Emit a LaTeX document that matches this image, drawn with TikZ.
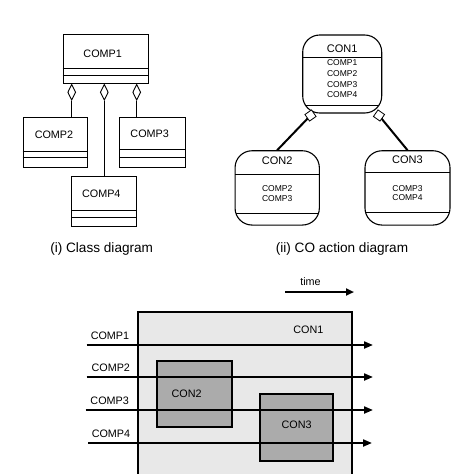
\documentclass[tikz,border=0pt]{standalone}
\usepackage{fontspec}
\setmainfont{Liberation Sans}
\usetikzlibrary{shapes.geometric,arrows.meta,backgrounds}
\tikzset{
  cls/.style={draw, line width=1.1pt, inner sep=0, fill=white, anchor=north west},
  cmp/.style={line width=0.9pt},
  clstxt/.style={font=\fontsize{10.8}{12}\selectfont, inner sep=0},
  agg/.style={diamond, draw, line width=0.9pt, fill=white, inner sep=0, minimum width=8, minimum height=16},
  aggline/.style={line width=0.9pt},
  conbox/.style={draw, line width=1.1pt, rounded corners=17, inner sep=0, fill=white},
  contitle/.style={font=\fontsize{11}{12}\selectfont, inner sep=0},
  conlist/.style={font=\fontsize{8.5}{9}\selectfont, inner sep=0},
  link/.style={draw, line width=0.8pt, fill=white, inner sep=0, minimum width=8, minimum height=8},
  linkline/.style={line width=2pt},
  caption/.style={font=\fontsize{13.6}{15}\selectfont, inner sep=0},
  seqtxt/.style={font=\fontsize{10.8}{12}\selectfont, inner sep=0},
  lane/.style={line width=2pt, -{Triangle[length=9pt,width=7pt]}},
}
\begin{document}
\begin{tikzpicture}[x=1pt,y=-1pt]
\useasboundingbox (0,0) rectangle (474,474);

% ---------- (i) Class diagram ----------
\node[cls, minimum width=85, minimum height=49.3] (c1) at (62.7,34) {};
\draw[cmp] (62.7,68.3) -- (147.7,68.3) (62.7,75.7) -- (147.7,75.7);
\node[clstxt] (t1) at (102.7,53.3) {COMP1};

\node[cls, minimum width=64.6, minimum height=50] (c2) at (22.7,116.7) {};
\draw[cmp] (22.7,151.7) -- (87.3,151.7) (22.7,157.3) -- (87.3,157.3);
\node[clstxt] (t2) at (54,135) {COMP2};

\node[cls, minimum width=65.7, minimum height=50] (c3) at (119.3,116.7) {};
\draw[cmp] (119.3,149) -- (185,149) (119.3,157) -- (185,157);
\node[clstxt] (t3) at (149.7,133.3) {COMP3};

\node[cls, minimum width=65, minimum height=50] (c4) at (71,176) {};
\draw[cmp] (71,210) -- (136,210) (71,217.3) -- (136,217.3);
\node[clstxt] (t4) at (101.3,194) {COMP4};

\node[agg, anchor=north] (d2) at (71.7,83.8) {};
\node[agg, anchor=north] (d4) at (104.3,83.8) {};
\node[agg, anchor=north] (d3) at (136.7,83.8) {};
\draw[aggline] (d2.south) -- (d2.south |- c2.north);
\draw[aggline] (d4.south) -- (d4.south |- c4.north);
\draw[aggline] (d3.south) -- (d3.south |- c3.north);

\node[caption] (cap1) at (101.7,249) {(i) Class diagram};

% ---------- (ii) CO action diagram ----------
\node[conbox, minimum width=79, minimum height=78] (con1) at (342.2,74) {};
\draw[cmp] (302.7,57.7) -- (381.7,57.7);
\draw[cmp] (305.2,105.3) -- (379.2,105.3);
\node[contitle] (n1) at (342.2,48.3) {CON1};
\node[conlist] (l11) at (342.2,62.9) {COMP1};
\node[conlist] (l12) at (342.2,73.6) {COMP2};
\node[conlist] (l13) at (342.2,84.3) {COMP3};
\node[conlist] (l14) at (342.2,95.0) {COMP4};

\node[conbox, minimum width=84.3, minimum height=74.3] (con2) at (277.2,187.9) {};
\draw[cmp] (235,174.3) -- (319.3,174.3);
\draw[cmp] (236,213.3) -- (318.3,213.3);
\node[contitle] (n2) at (277.2,160.5) {CON2};
\node[conlist] (l21) at (277.2,188.6) {COMP2};
\node[conlist] (l22) at (277.2,198.3) {COMP3};

\node[conbox, minimum width=85, minimum height=74.3] (con3) at (407.5,187.9) {};
\draw[cmp] (365,172.7) -- (450,172.7);
\draw[cmp] (366,212.3) -- (449,212.3);
\node[contitle] (n3) at (407.5,159.5) {CON3};
\node[conlist] (l31) at (407.5,188.2) {COMP3};
\node[conlist] (l32) at (407.5,198) {COMP4};

\node[link, rotate=35] (k1) at (310.5,115.5) {};
\node[link, rotate=-35] (k2) at (379,115.5) {};
\begin{scope}[on background layer]
\draw[linkline] (k1.center) -- (con2.north);
\draw[linkline] (k2.center) -- (con3.north);
\end{scope}

\node[caption] (cap2) at (342,249) {(ii) CO action diagram};

% ---------- (iii) time diagram ----------
\node[seqtxt] (time) at (310.5,281.7) {time};
\coordinate (ts) at (285,292);
\coordinate (te) at (354,292);
\draw[line width=2pt, -{Triangle[length=8pt,width=7pt]}] (ts) -- (te);

\fill[black!9] (138,312) rectangle (352,474);
\draw[line width=2pt] (138,474) -- (138,312) -- (352,312) -- (352,474);
\node[seqtxt] (ncon1) at (308.3,329.3) {CON1};

\node[draw, line width=2pt, fill=black!33, inner sep=0, minimum width=75, minimum height=66, anchor=north west] (box2) at (156,360) {};
\node[seqtxt] (ncon2) at (186.7,393.3) {CON2};
\node[draw, line width=2pt, fill=black!33, inner sep=0, minimum width=73, minimum height=67, anchor=north west] (box3) at (259,393) {};
\node[seqtxt] (ncon3) at (296.7,425) {CON3};

\coordinate (a1s) at (86.7,345);   \coordinate (a1e) at (373,345);
\coordinate (a2s) at (86.7,377); \coordinate (a2e) at (373,377);
\coordinate (a3s) at (85.5,410);   \coordinate (a3e) at (373,410);
\coordinate (a4s) at (88,443);   \coordinate (a4e) at (372,443);
\draw[lane] (a1s) -- (a1e);
\draw[lane] (a2s) -- (a2e);
\draw[lane] (a3s) -- (a3e);
\draw[lane] (a4s) -- (a4e);
\node[seqtxt] (s1) at (110,335.7) {COMP1};
\node[seqtxt] (s2) at (110.8,367.7) {COMP2};
\node[seqtxt] (s3) at (109.7,401) {COMP3};
\node[seqtxt] (s4) at (111,433.3) {COMP4};
\end{tikzpicture}
\end{document}
